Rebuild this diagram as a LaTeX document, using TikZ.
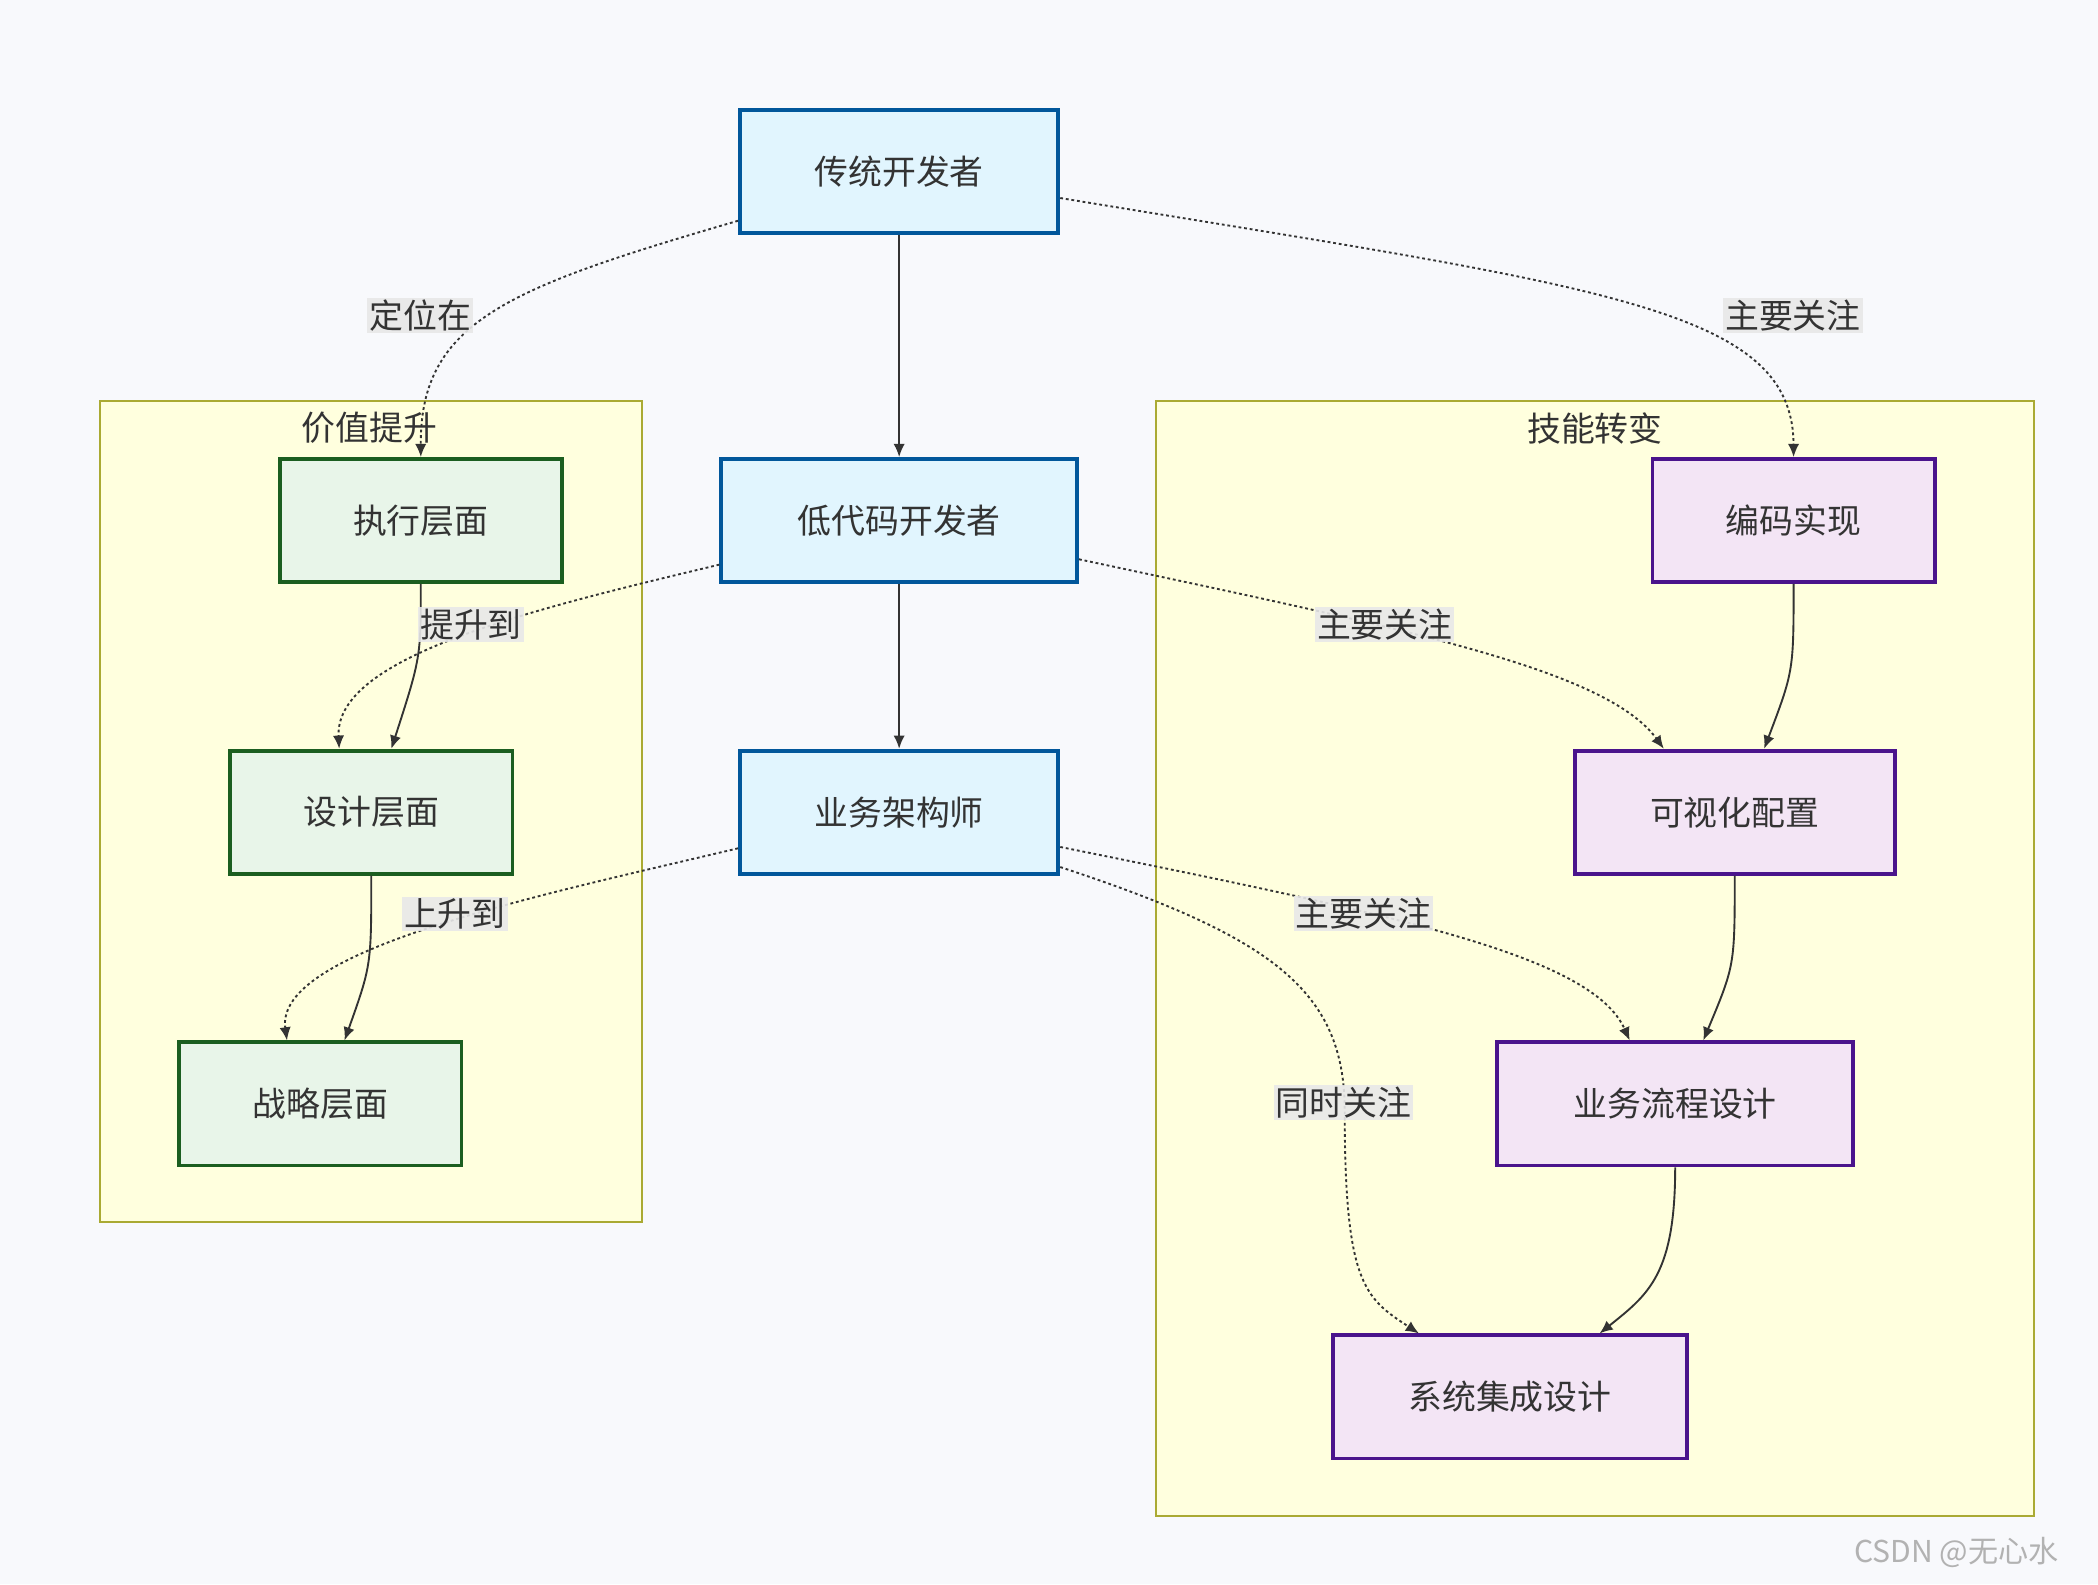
\documentclass[tikz,border=0pt]{standalone}
\usepackage{fontspec}
\setmainfont{Noto Sans CJK SC}
\usetikzlibrary{arrows.meta,calc}
\definecolor{bg}{HTML}{F8F9FC}
\definecolor{cl}{HTML}{FFFFDE}
\definecolor{cls}{HTML}{AAAA33}
\definecolor{bf}{HTML}{E1F5FE}\definecolor{bs}{HTML}{01579B}
\definecolor{gf}{HTML}{E8F5E9}\definecolor{gs}{HTML}{1B5E20}
\definecolor{pf}{HTML}{F3E5F5}\definecolor{ps}{HTML}{4A148C}
\definecolor{ln}{HTML}{333333}
\definecolor{lb}{HTML}{E8E8E8}
\begin{document}
\begin{tikzpicture}[x=0.025cm,y=-0.025cm,
 box/.style={draw,line width=2pt,minimum height=92*0.025cm,inner sep=0pt,font=\fontsize{18}{22}\selectfont,text=ln},
 blue/.style={box,fill=bf,draw=bs},
 green/.style={box,fill=gf,draw=gs},
 purple/.style={box,fill=pf,draw=ps},
 arr/.style={draw=ln,line width=1pt,-{Latex[length=7pt,width=6pt]}},
 dot/.style={arr,dash pattern=on 1.5pt off 1.5pt},
 lab/.style={fill=lb,fill opacity=0.9,text opacity=1,inner sep=1pt,font=\fontsize{18}{22}\selectfont,text=ln},
 clab/.style={font=\fontsize{18}{22}\selectfont,text=ln}]
\useasboundingbox[fill=bg] (0,0) rectangle (1568,1184);
\draw[fill=cl,draw=cls,line width=1pt] (75,300) rectangle (480,913);
\draw[fill=cl,draw=cls,line width=1pt] (864,300) rectangle (1520,1133);
\node[clab] (c1) at (276,320) {价值提升};
\node[clab] (c2) at (1192,320) {技能转变};
\node[blue,minimum width=238*0.025cm] (t) at (672,128) {传统开发者};
\node[blue,minimum width=266*0.025cm] (l) at (672,389) {低代码开发者};
\node[blue,minimum width=238*0.025cm] (a) at (672,607) {业务架构师};
\node[green,minimum width=211*0.025cm] (e) at (314.5,389) {执行层面};
\node[green,minimum width=211*0.025cm] (d) at (277.5,607) {设计层面};
\node[green,minimum width=211*0.025cm] (s) at (239.5,825) {战略层面};
\node[purple,minimum width=211*0.025cm] (c) at (1340.5,389) {编码实现};
\node[purple,minimum width=239*0.025cm] (v) at (1296.5,607) {可视化配置};
\node[purple,minimum width=266*0.025cm] (p) at (1252,825) {业务流程设计};
\node[purple,minimum width=265*0.025cm] (x) at (1128.5,1044) {系统集成设计};
% solid
\draw[arr] (t) -- (l);
\draw[arr] (l) -- (a);
\draw[arr] (e.south) .. controls ($(e.south)+(0,55)$) .. ($(d.north)+(15,0)$);
\draw[arr] (d.south) .. controls ($(d.south)+(0,67)$) .. ($(s.north)+(18,0)$);
\draw[arr] (c.south) .. controls ($(c.south)+(0,65)$) .. ($(v.north)+(22,0)$);
\draw[arr] (v.south) .. controls ($(v.south)+(0,67)$) .. ($(p.north)+(21,0)$);
\draw[arr] (p.south) .. controls ($(p.south)+(0,80)$) and ($(p.south)+(-20,95)$) .. ($(x.north)+(67,0)$);
% dotted
\draw[dot] ($(t.west)+(0,37)$) .. controls (380,215) and (314,240) .. (e.north);
\draw[dot] ($(t.east)+(0,20)$) .. controls (1200,215) and (1340,230) .. (c.north);
\draw[dot] ($(l.west)+(0,33)$) .. controls (400,455) and (250,490) .. ($(d.north)+(-24,0)$);
\draw[dot] ($(l.east)+(0,29)$) .. controls (1050,470) and (1200,500) .. ($(v.north)+(-53,0)$);
\draw[dot] ($(a.west)+(0,27)$) .. controls (400,670) and (205,710) .. ($(s.north)+(-25,0)$);
\draw[dot] ($(a.east)+(0,26)$) .. controls (1050,685) and (1190,715) .. ($(p.north)+(-34,0)$);
\draw[dot] ($(a.east)+(0,41)$) .. controls (950,700) and (1005,740) .. (1005,830) .. controls (1005,960) and (1020,970) .. ($(x.north)+(-68,0)$);
\node[lab] (l1) at (314,236) {定位在};
\node[lab] (l2) at (1340,236) {主要关注};
\node[lab] (l3) at (352,467) {提升到};
\node[lab] (l4) at (1035,467) {主要关注};
\node[lab] (l5) at (340,683) {上升到};
\node[lab] (l6) at (1019,683) {主要关注};
\node[lab] (l7) at (1004,824) {同时关注};
\node[font=\fontsize{16}{20}\selectfont,text=gray!60] (w) at (1462,1160) {CSDN @无心水};
\end{tikzpicture}
\end{document}
